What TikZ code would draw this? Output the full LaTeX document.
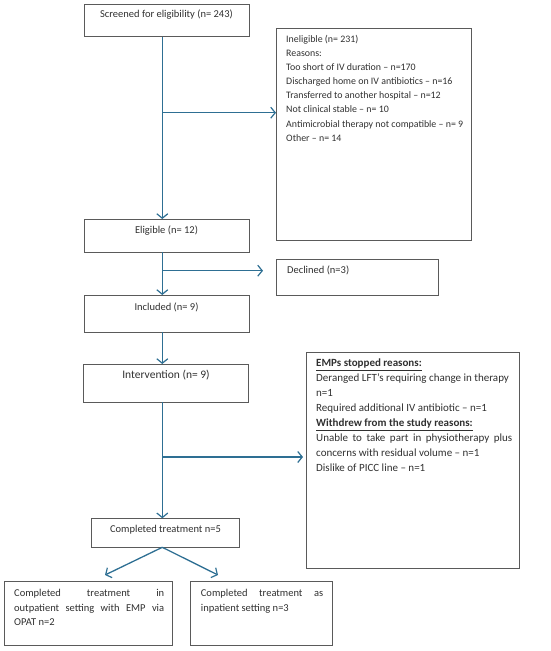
\documentclass[tikz,border=0pt]{standalone}
\usepackage{fontspec}
\setmainfont{Carlito}
\usetikzlibrary{arrows.meta,calc}
\definecolor{arrc}{HTML}{2E6F93}
\definecolor{boxc}{HTML}{5A5A5A}
\definecolor{txtc}{HTML}{303030}
\tikzset{
  box/.style={draw=boxc,line width=0.9pt,inner sep=0pt,outer sep=0pt,anchor=north west},
  arr/.style={draw=arrc,line width=1.3pt,-{Straight Barb[length=4.5pt,width=11pt,line width=1.2pt]}},
  lbl/.style={text=txtc,inner sep=0pt,anchor=mid,font=\fontsize{10.5}{13}\selectfont},
  par/.style={text=txtc,inner sep=0pt,anchor=north west,align=left}
}
\begin{document}
\begin{tikzpicture}[x=1pt,y=-1pt]
\useasboundingbox (0,0) rectangle (550,651);
% boxes
\node[box,minimum width=165pt,minimum height=32.5pt] (scr) at (84,4) {};
\node[box,minimum width=195.5pt,minimum height=212pt] (inel) at (276,28.3) {};
\node[box,minimum width=165pt,minimum height=33.3pt] (elig) at (84,219) {};
\node[box,minimum width=162.3pt,minimum height=35.7pt] (decl) at (276,259.3) {};
\node[box,minimum width=165pt,minimum height=37.3pt] (incl) at (84.5,295) {};
\node[box,minimum width=165.5pt,minimum height=38pt] (intv) at (83,364) {};
\node[box,minimum width=213pt,minimum height=216pt] (emp) at (306,352.3) {};
\node[box,minimum width=147.6pt,minimum height=29pt] (comp) at (91.7,518.3) {};
\node[box,minimum width=168.7pt,minimum height=63.3pt] (bl) at (4,581.7) {};
\node[box,minimum width=142.3pt,minimum height=63.3pt] (br) at (190,581.7) {};
% texts
\node[lbl] (scrT) at (166.5,15.5) {Screened for eligibility (n= 243)};
\node[par,font=\fontsize{9.9}{14.1}\selectfont] (inelT) at (286,35) {Ineligible (n= 231)\\Reasons:\\Too short of IV duration – n=170\\Discharged home on IV antibiotics – n=16\\Transferred to another hospital – n=12\\Not clinical stable – n= 10\\Antimicrobial therapy not compatible – n= 9\\Other – n= 14};
\node[lbl] (eligT) at (166.5,231.3) {Eligible (n= 12)};
\node[lbl,anchor=mid west] (declT) at (287,271) {Declined (n=3)};
\node[lbl] (inclT) at (166.5,307.7) {Included (n= 9)};
\node[lbl,font=\fontsize{11.5}{14}\selectfont] (intvT) at (166,376.3) {Intervention (n= 9)};
\node[par,text width=196pt,align=justify,font=\fontsize{11}{15}\selectfont] (empT) at (316,359) {\underline{\textbf{EMPs stopped reasons:}}\newline Deranged LFT's requiring change in therapy\newline n=1\newline Required additional IV antibiotic – n=1\newline \underline{\textbf{Withdrew from the study reasons:}}\newline Unable to take part in physiotherapy plus\linebreak concerns with residual volume – n=1\newline Dislike of PICC line – n=1};
\node[lbl] (compT) at (165.5,530) {Completed treatment n=5};
\node[par,text width=150pt,align=justify,font=\fontsize{10.5}{14.5}\selectfont] (blT) at (14,589.5) {Completed treatment in\linebreak outpatient setting with EMP via\linebreak OPAT n=2};
\node[par,text width=122.3pt,align=justify,font=\fontsize{10.5}{14.5}\selectfont] (brT) at (200.7,589.5) {Completed treatment as\linebreak inpatient setting n=3};
% connectors
\coordinate (mx) at (162.3,0);
\coordinate (y1) at (0,112.7);
\coordinate (y2) at (0,270.7);
\coordinate (y3) at (0,457);
\draw[arr] (scr.south -| mx) -- (elig.north -| mx);
\draw[arr] (mx |- y1) -- (inel.west |- y1);
\draw[arr] (elig.south -| mx) -- (incl.north -| mx);
\draw[arr] (mx |- y2) -- ([xshift=-13pt]decl.west |- y2);
\draw[arr] (incl.south -| mx) -- (intv.north -| mx);
\draw[arr] (intv.south -| mx) -- (comp.north -| mx);
\draw[arr] (mx |- y3) -- ([xshift=-3pt]emp.west |- y3);
\coordinate (cb) at (comp.south -| mx);
\draw[arr] (cb) -- ($(bl.north west)+(101,-6.7)$);
\draw[arr] (cb) -- ($(br.north west)+(28,-6.7)$);
\end{tikzpicture}
\end{document}
